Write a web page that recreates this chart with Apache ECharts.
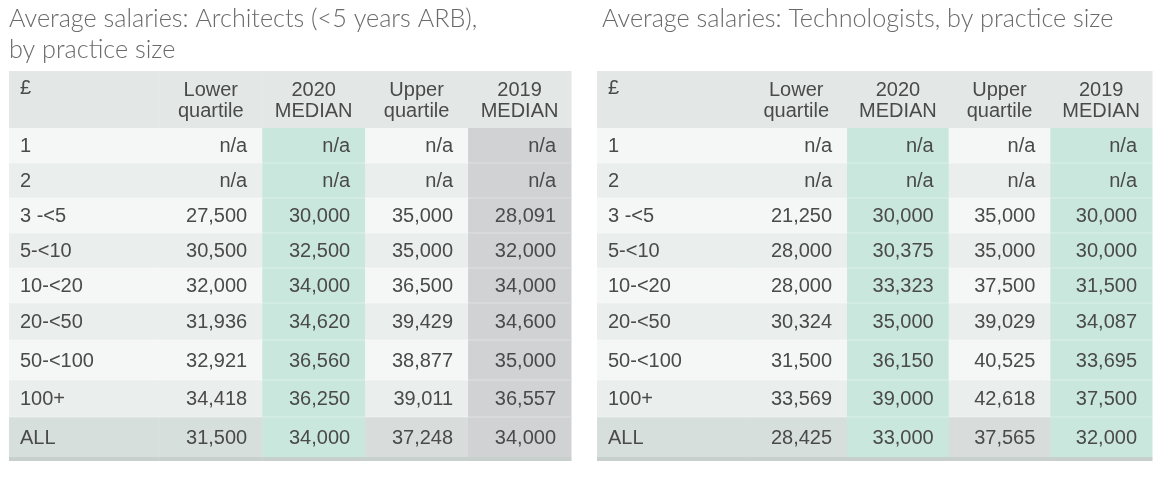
<!DOCTYPE html>
<html>
<head>
<meta charset="utf-8">
<script src="https://cdn.jsdelivr.net/npm/echarts@6/dist/echarts.min.js"></script>
<style>html,body{margin:0;padding:0;background:#fff;}#c{width:1166px;height:477px;}</style>
</head>
<body>
<div id="c"></div>
<script>
// ---- data ----
const sizes = ['1', '2', '3 -<5', '5-<10', '10-<20', '20-<50', '50-<100', '100+', 'ALL'];
const columnHeads = ['Lower\nquartile', '2020\nMEDIAN', 'Upper\nquartile', '2019\nMEDIAN'];
const currencyLabel = '£';

const archLower  = [null, null, 27500, 30500, 32000, 31936, 32921, 34418, 31500];
const archMed20  = [null, null, 30000, 32500, 34000, 34620, 36560, 36250, 34000];
const archUpper  = [null, null, 35000, 35000, 36500, 39429, 38877, 39011, 37248];
const archMed19  = [null, null, 28091, 32000, 34000, 34600, 35000, 36557, 34000];

const techLower  = [null, null, 21250, 28000, 28000, 30324, 31500, 33569, 28425];
const techMed20  = [null, null, 30000, 30375, 33323, 35000, 36150, 39000, 33000];
const techUpper  = [null, null, 35000, 35000, 37500, 39029, 40525, 42618, 37565];
const techMed19  = [null, null, 30000, 30000, 31500, 34087, 33695, 37500, 32000];

const titleArch = 'Average salaries: Architects (<5 years ARB),\nby practice size';
const titleTech = 'Average salaries: Technologists, by practice size';

// ---- layout (table geometry in axis units) ----
const colEdges = [0, 1.46, 2.46, 3.46, 4.46, 5.46];
const rowEdges = [0, 1.63, 2.63, 3.63, 4.63, 5.63, 6.63, 7.69, 8.83, 9.89, 11.03];

const C = {
  header: '#e3e8e6', odd: '#f4f7f6', even: '#eaeeed', all: '#d6dfdc',
  green: '#c9e7dd', gray: '#d1d2d4', allMid: '#d8dddb', border: '#c8d0cd',
  text: '#4a4a4a', title: '#6a6a6a'
};

function fmt(v) { return v == null ? 'n/a' : v.toLocaleString('en-GB'); }

function buildCells(cols) {
  const cells = [];
  cells.push([0, 0, currencyLabel]);
  columnHeads.forEach((h, i) => cells.push([i + 1, 0, h]));
  sizes.forEach((s, r) => {
    cells.push([0, r + 1, s]);
    cols.forEach((arr, i) => cells.push([i + 1, r + 1, fmt(arr[r])]));
  });
  return cells;
}

function makeRender(lastColColor) {
  return function (params, api) {
    const col = api.value(0), row = api.value(1);
    const text = api.value(2);
    const p0 = api.coord([colEdges[col], rowEdges[row]]);
    const p1 = api.coord([colEdges[col + 1], rowEdges[row + 1]]);
    const x0 = p0[0], y0 = p0[1], x1 = p1[0], y1 = p1[1];
    const isAll = row === sizes.length;
    let fill;
    if (row === 0) fill = C.header;
    else if (col === 2) fill = C.green;
    else if (col === 4) fill = lastColColor;
    else if (isAll) fill = (col === 3 ? C.allMid : C.all);
    else fill = (row % 2 === 1) ? C.odd : C.even;
    const children = [{
      type: 'rect', shape: { x: x0, y: y0, width: x1 - x0 + 0.5, height: y1 - y0 + 0.5 },
      style: { fill: fill }
    }];
    if (row > 1) {
      children.push({ type: 'rect', shape: { x: x0, y: y0 - 0.5, width: x1 - x0, height: 1 },
        style: { fill: 'rgba(255,255,255,0.35)' } });
    }
    if (isAll) {
      children.push({ type: 'rect', shape: { x: x0, y: y1, width: x1 - x0 + 0.5, height: 4 },
        style: { fill: C.border } });
    }
    const font = { fill: C.text, fontSize: 20, fontFamily: '"Liberation Sans", Arial, sans-serif' };
    if (row === 0) {
      if (col === 0) {
        children.push({ type: 'text', style: Object.assign({ text: text, x: x0 + 11, y: y0 + 17,
          align: 'left', verticalAlign: 'middle' }, font) });
      } else {
        children.push({ type: 'text', style: Object.assign({ text: text, x: (x0 + x1) / 2, y: (y0 + y1) / 2 + 1,
          align: 'center', verticalAlign: 'middle', lineHeight: 21 }, font) });
      }
    } else if (col === 0) {
      children.push({ type: 'text', style: Object.assign({ text: text, x: x0 + 11, y: (y0 + y1) / 2 + 1,
        align: 'left', verticalAlign: 'middle' }, font) });
    } else {
      children.push({ type: 'text', style: Object.assign({ text: text, x: x1 - 15, y: (y0 + y1) / 2 + 1,
        align: 'right', verticalAlign: 'middle' }, font) });
    }
    return { type: 'group', children: children };
  };
}

const chart = echarts.init(document.getElementById('c'), null, { renderer: 'canvas' });
const titleStyle = { fontFamily: 'Lato, "Open Sans", sans-serif', fontWeight: 300, fontSize: 25.2, color: C.title, lineHeight: 31 };
chart.setOption({
  animation: false,
  title: [
    { text: titleArch, left: 9, top: 3, padding: 0, textStyle: titleStyle },
    { text: titleTech, left: 602, top: 3, padding: 0, textStyle: titleStyle }
  ],
  grid: [
    { left: 9, top: 71, width: 562, height: 386 },
    { left: 597, top: 71, width: 555, height: 386 }
  ],
  xAxis: [
    { gridIndex: 0, type: 'value', min: 0, max: 5.46, show: false },
    { gridIndex: 1, type: 'value', min: 0, max: 5.46, show: false }
  ],
  yAxis: [
    { gridIndex: 0, type: 'value', min: 0, max: 11.03, inverse: true, show: false },
    { gridIndex: 1, type: 'value', min: 0, max: 11.03, inverse: true, show: false }
  ],
  series: [
    { type: 'custom', xAxisIndex: 0, yAxisIndex: 0, clip: false, silent: true,
      renderItem: makeRender(C.gray), encode: { x: 0, y: 1 },
      data: buildCells([archLower, archMed20, archUpper, archMed19]) },
    { type: 'custom', xAxisIndex: 1, yAxisIndex: 1, clip: false, silent: true,
      renderItem: makeRender(C.green), encode: { x: 0, y: 1 },
      data: buildCells([techLower, techMed20, techUpper, techMed19]) }
  ]
});
</script>
</body>
</html>
